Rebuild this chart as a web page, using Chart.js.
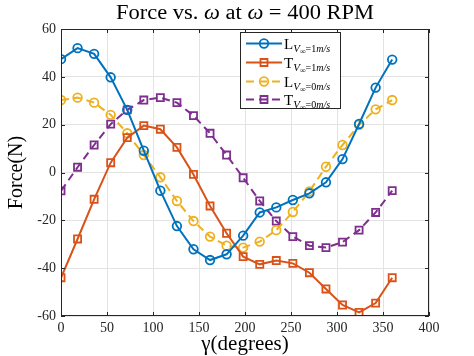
<!DOCTYPE html>
<html>
<head>
<meta charset="utf-8">
<script src="https://cdn.jsdelivr.net/npm/chart.js@4/dist/chart.umd.min.js"></script>
<style>
html,body{margin:0;padding:0;background:#fff;}
#wrap{width:474px;height:356px;}
</style>
</head>
<body>
<div id="wrap"><canvas id="c" width="474" height="356"></canvas></div>
<script>
const gammaDeg = [0,18,36,54,72,90,108,126,144,162,180,198,216,234,252,270,288,306,324,342,360];
const L1 = [47.4,52,49.6,39.8,26.2,9.1,-7.6,-22.4,-32.1,-36.6,-34.2,-26.4,-16.7,-14.6,-11.5,-8.7,-4.1,5.6,20.3,35.5,47.2];
const T1 = [-44,-27.8,-11.2,4.1,14.6,19.6,18.1,10.5,-0.8,-14,-25.4,-35.2,-38.4,-36.8,-38,-41.9,-48.7,-55.4,-58.5,-54.6,-44];
const L0 = [30.3,31.3,29.2,24.1,16.4,7.3,-2,-11.9,-20.3,-26.8,-30.6,-31.4,-28.9,-24.1,-16.5,-7.9,2.4,11.5,19.9,26.4,30.3];
const T0 = [-7.7,2.2,11.5,20.2,26.2,30.3,31.3,29.2,23.8,16.4,7.3,-2.2,-11.9,-20.3,-26.8,-30.6,-31.4,-29.1,-24.1,-16.7,-7.6];
const seriesNames = [["L","1"],["T","1"],["L","0"],["T","0"]];
const xTicks = [0,50,100,150,200,250,300,350,400];
const yTicks = [-60,-40,-20,0,20,40,60];
const titleParts = [["Force vs. ",false],["ω",true],[" at ",false],["ω",true],[" = 400 RPM",false]];

const colors = ['#0072BD','#D95319','#EDB120','#7E2F8E'];
const serif = '"Liberation Serif","DejaVu Serif",serif';
const toXY = arr => arr.map((v,i)=>({x:gammaDeg[i], y:v}));

function ds(label, data, color, style, dashed){
  return {
    label, data: toXY(data),
    borderColor: color, backgroundColor: 'rgba(0,0,0,0)',
    borderWidth: 2, borderDash: dashed ? [8,5] : [],
    pointStyle: style, pointRadius: style==='rect'?5:4.3, pointBorderWidth: 1.8,
    pointBorderColor: color, pointBackgroundColor: 'rgba(0,0,0,0)',
    tension: 0, fill: false
  };
}

const decor = {
  id:'decor',
  afterDraw(chart){
    const ctx = chart.ctx, a = chart.chartArea;
    const xs = chart.scales.x, ys = chart.scales.y;
    ctx.save();
    ctx.strokeStyle = '#262626'; ctx.lineWidth = 1;
    ctx.strokeRect(a.left+0.5, a.top+0.5, a.right-a.left-1, a.bottom-a.top-1);
    ctx.beginPath();
    xTicks.forEach(v=>{const p=Math.round(xs.getPixelForValue(v))+0.5;
      ctx.moveTo(p,a.bottom); ctx.lineTo(p,a.bottom-4);
      ctx.moveTo(p,a.top); ctx.lineTo(p,a.top+4);});
    yTicks.forEach(v=>{const p=Math.round(ys.getPixelForValue(v))+0.5;
      ctx.moveTo(a.left,p); ctx.lineTo(a.left+4,p);
      ctx.moveTo(a.right,p); ctx.lineTo(a.right-4,p);});
    ctx.stroke();

    // title (stretched to the reference width)
    ctx.fillStyle = '#000';
    ctx.textBaseline = 'alphabetic';
    let w = 0;
    titleParts.forEach(([t,it])=>{ctx.font=(it?'italic ':'')+'20px '+serif; w+=ctx.measureText(t).width;});
    const targetW = 258, sx = targetW / w;
    ctx.save();
    ctx.translate(245 - targetW/2, 19);
    ctx.scale(sx, 1);
    let x = 0;
    titleParts.forEach(([t,it])=>{ctx.font=(it?'italic ':'')+'20px '+serif; ctx.fillText(t,x,0); x+=ctx.measureText(t).width;});
    ctx.restore();

    // legend
    const lx=240.5, ly=32.5, lw=100, lh=76;
    ctx.fillStyle='#fff'; ctx.fillRect(lx,ly,lw,lh);
    ctx.strokeStyle='#262626'; ctx.lineWidth=1; ctx.strokeRect(lx,ly,lw,lh);
    const rows=[43.5,62.5,81.5,99.5];
    chart.data.datasets.forEach((d,i)=>{
      const y=rows[i];
      ctx.save();
      ctx.strokeStyle=d.borderColor; ctx.lineWidth=2;
      ctx.setLineDash(d.borderDash.length?[8,5]:[]);
      ctx.beginPath(); ctx.moveTo(246,y); ctx.lineTo(282,y); ctx.stroke();
      ctx.setLineDash([]); ctx.lineWidth=1.8;
      ctx.beginPath();
      if(d.pointStyle==='rect'){ctx.rect(264-3.5,y-3.5,7,7);} else {ctx.arc(264,y,4.3,0,Math.PI*2);}
      ctx.stroke();
      ctx.restore();
      ctx.fillStyle='#000';
      let tx=284;
      const base=y+5;
      ctx.font='15px '+serif; ctx.fillText(seriesNames[i][0],tx,base); tx+=ctx.measureText(seriesNames[i][0]).width;
      const sb=base+3;
      ctx.font='italic 11px '+serif; ctx.fillText('V',tx,sb); tx+=ctx.measureText('V').width;
      ctx.font='8px '+serif; ctx.fillText('∞',tx,sb+2); tx+=ctx.measureText('∞').width;
      ctx.font='10px '+serif; const eq='='+seriesNames[i][1]; ctx.fillText(eq,tx,sb); tx+=ctx.measureText(eq).width;
      ctx.font='italic 10px '+serif; ctx.fillText('m/s',tx,sb);
    });
    ctx.restore();
  }
};

new Chart(document.getElementById('c'),{
  type:'line',
  data:{datasets:[
    ds('L1',L1,colors[0],'circle',false),
    ds('T1',T1,colors[1],'rect',false),
    ds('L0',L0,colors[2],'circle',true),
    ds('T0',T0,colors[3],'rect',true)
  ]},
  options:{
    responsive:false, animation:false,
    layout:{padding:{top:29,right:45,left:0,bottom:0}},
    plugins:{legend:{display:false},title:{display:false},tooltip:{enabled:false}},
    scales:{
      x:{type:'linear',min:0,max:400,
        afterBuildTicks:s=>{s.ticks=xTicks.map(v=>({value:v}));},
        afterFit:s=>{s.height=40;},
        grid:{color:'#e3e3e3',drawTicks:false},border:{display:false},
        ticks:{padding:4,color:'#262626',font:{family:serif,size:14}},
        title:{display:true,text:'γ(degrees)',color:'#000',font:{family:serif,size:21},padding:{top:0,bottom:-1}}
      },
      y:{min:-60,max:60,
        afterBuildTicks:s=>{s.ticks=yTicks.map(v=>({value:v}));},
        afterFit:s=>{s.width=61;},
        grid:{color:'#e3e3e3',drawTicks:false},border:{display:false},
        ticks:{padding:5,color:'#262626',font:{family:serif,size:14}},
        title:{display:true,text:'Force(N)',color:'#000',font:{family:serif,size:20},padding:{top:5,bottom:0}}
      }
    }
  },
  plugins:[decor]
});
</script>
</body>
</html>
